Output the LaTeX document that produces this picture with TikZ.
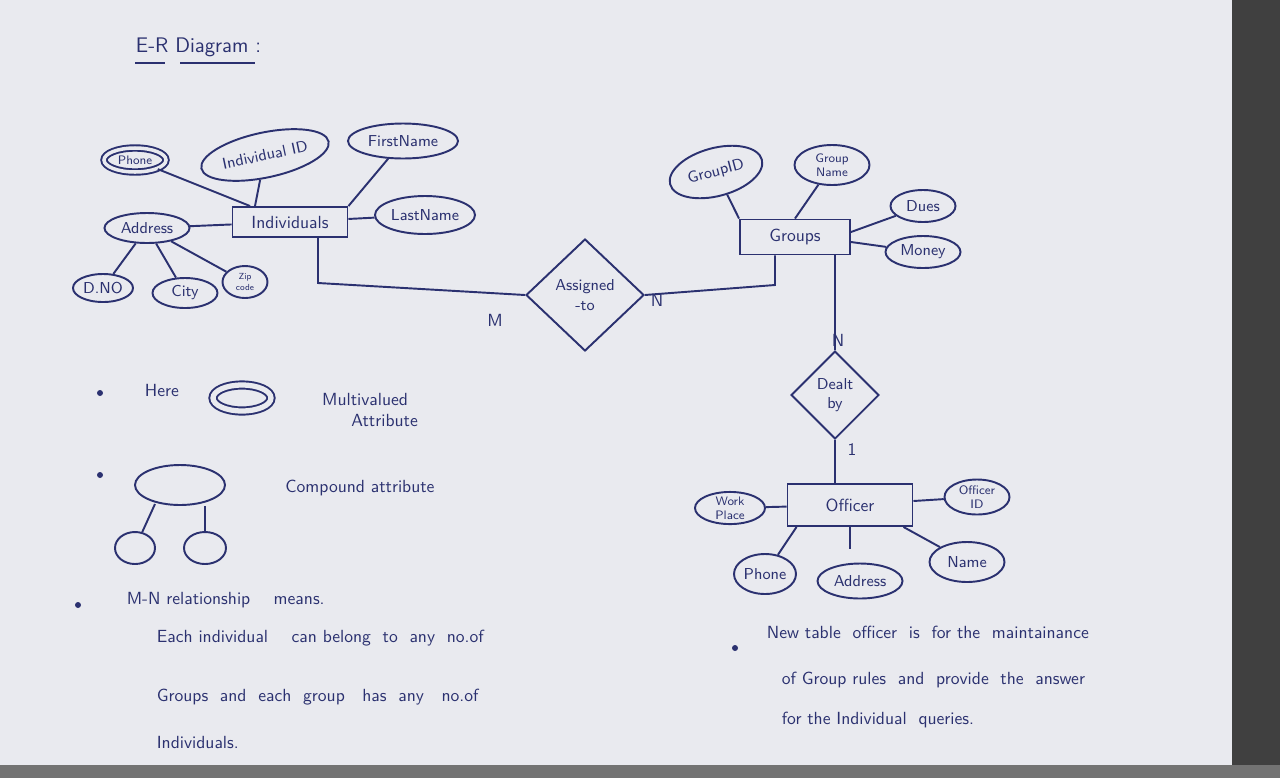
\documentclass[tikz,border=0pt]{standalone}
\usetikzlibrary{shapes.geometric,calc}
\begin{document}
\begin{tikzpicture}[x=0.02cm,y=-0.02cm,
  W/.style={minimum width=#1*0.02cm},H/.style={minimum height=#1*0.02cm},
  ink/.style={draw=inkc,line width=1.1pt},
  attr/.style={ellipse,ink,inner sep=0pt,text=inkc,font=\sffamily\small},
  ent/.style={rectangle,ink,inner sep=2pt,text=inkc,font=\sffamily},
  rel/.style={diamond,ink,aspect=1,inner sep=0pt,text=inkc,font=\sffamily\small,align=center},
  lbl/.style={text=inkc,font=\sffamily},
  dbl/.style={double=paper,double distance=#1},
  every path/.style={line width=1.1pt}]
\definecolor{inkc}{HTML}{2B3170}
\definecolor{paper}{HTML}{E9EAEF}
\fill[paper] (0,0) rectangle (1280,778);
\fill[black!75] (1232,0) rectangle (1280,778);
\fill[black!55] (0,765) rectangle (1280,778);
\useasboundingbox (0,0) rectangle (1280,778);
% title
\node[lbl,font=\sffamily\large,anchor=west,inner sep=0pt] (title) at (135,47) {E-R Diagram :};
\draw[inkc] (135,63) -- (165,63) (180,63) -- (255,63);
% Individuals side
\node[ent,W=115,H=30] (ind) at (290,222) {Individuals};
\node[attr,dbl=2pt,W=62,H=24,font=\sffamily\scriptsize] (phone) at (135,160) {Phone};
\node[attr,W=130,H=45,rotate=12] (iid) at (265,155) {Individual ID};
\node[attr,W=110,H=35] (fn) at (403,141) {FirstName};
\node[attr,W=100,H=38] (ln) at (425,215) {LastName};
\node[attr,W=85,H=30] (addr) at (147,228) {Address};
\node[attr,W=60,H=28] (dno) at (103,288) {D.NO};
\node[attr,W=65,H=30] (city) at (185,293) {City};
\node[attr,W=45,H=32,align=center,font=\sffamily\tiny] (zip) at (245,282) {Zip\\code};
\draw[inkc] (ind) -- (phone);
\draw[inkc] (ind.north) ++(-35,0) -- (iid);
\draw[inkc] (ind.north east) -- (fn);
\draw[inkc] (ind) -- (ln);
\draw[inkc] (ind) -- (addr);
\draw[inkc] (addr) -- (dno);
\draw[inkc] (addr) -- (city);
\draw[inkc] (addr) -- (zip);
% assigned to
\node[rel,W=118,H=112] (asg) at (585,295) {Assigned\\-to};
\node[ent,W=110,H=35] (grp) at (795,237) {Groups};
\coordinate (c1) at (318,283);
\coordinate (c2) at (775,285);
\draw[inkc] (ind.south -| c1) -- (c1) -- (asg.west);
\draw[inkc] (asg.east) -- (c2) -- (grp.south -| c2);
\node[lbl] (m1) at (495,320) {M};
\node[lbl] (n1) at (657,300) {N};
% Groups attrs
\node[attr,W=95,H=48,rotate=15] (gid) at (716,172) {GroupID};
\node[attr,W=75,H=40,align=center,font=\sffamily\scriptsize] (gname) at (832,165) {Group\\Name};
\node[attr,W=65,H=32] (dues) at (923,206) {Dues};
\node[attr,W=75,H=32] (money) at (923,252) {Money};
\draw[inkc] (grp.north west) -- (gid);
\draw[inkc] (grp.north) -- (gname);
\draw[inkc] (grp.east) ++(0,-5) -- (dues);
\draw[inkc] (grp.east) ++(0,5) -- (money);
% dealt by
\node[rel,W=88,H=88] (dealt) at (835,395) {Dealt\\by};
\node[ent,W=125,H=42] (off) at (850,505) {Officer};
\draw[inkc] (grp.south -| dealt.north) -- (dealt.north);
\draw[inkc] (dealt.south) -- (off.north -| dealt.south);
\node[lbl] (n2) at (838,340) {N};
\node[lbl] (one) at (852,450) {1};
\node[attr,W=70,H=32,align=center,font=\sffamily\scriptsize] (wp) at (730,508) {Work\\Place};
\node[attr,W=65,H=35,align=center,font=\sffamily\scriptsize] (oid) at (977,497) {Officer\\ID};
\node[attr,W=62,H=40] (oph) at (765,574) {Phone};
\node[attr,W=85,H=35] (oad) at (860,581) {Address};
\node[attr,W=75,H=40] (onm) at (967,562) {Name};
\draw[inkc] (off) -- (wp);
\draw[inkc] (off) -- (oid);
\draw[inkc] (off.south west) ++(10,0) -- (oph);
\draw[inkc] (off.south) -- ++(0,22);
\draw[inkc] (off.south east) ++(-10,0) -- (onm);
% legend
\fill[inkc] (100,393) circle (3);
\node[lbl] (here) at (162,390) {Here};
\node[attr,dbl=3pt,W=58,H=26] (mv) at (242,398) {};
\node[lbl,align=left] (mvt) at (370,410) {Multivalued\\\quad\ \ Attribute};
\fill[inkc] (100,475) circle (3);
\node[attr,W=90,H=40] (cp) at (180,485) {};
\node[attr,W=40,H=32] (cp1) at (135,548) {};
\node[attr,W=42,H=32] (cp2) at (205,548) {};
\draw[inkc] (cp.south) ++(-25,-2) -- (cp1);
\draw[inkc] (cp.south) ++(25,0) -- (cp2);
\node[lbl] (cpt) at (360,488) {Compound attribute};
\fill[inkc] (78,605) circle (3);
\node[lbl,anchor=west] (mn) at (120,600) {M-N relationship \quad means.};
\node[lbl,anchor=west] (t1) at (150,638) {Each individual \quad can belong \ to \ any \ no.of};
\node[lbl,anchor=west] (t2) at (150,697) {Groups \ and \ each \ group \ \ has \ any \ \ no.of};
\node[lbl,anchor=west] (t3) at (150,742) {Individuals.};
\fill[inkc] (735,648) circle (3);
\node[lbl,anchor=west] (u1) at (760,632) {New table \ officer \ is \ for the \ maintainance};
\node[lbl,anchor=west] (u2) at (775,680) {of Group rules \ and \ provide \ the \ answer};
\node[lbl,anchor=west] (u3) at (775,720) {for the Individual \ queries.};
\end{tikzpicture}
\end{document}
